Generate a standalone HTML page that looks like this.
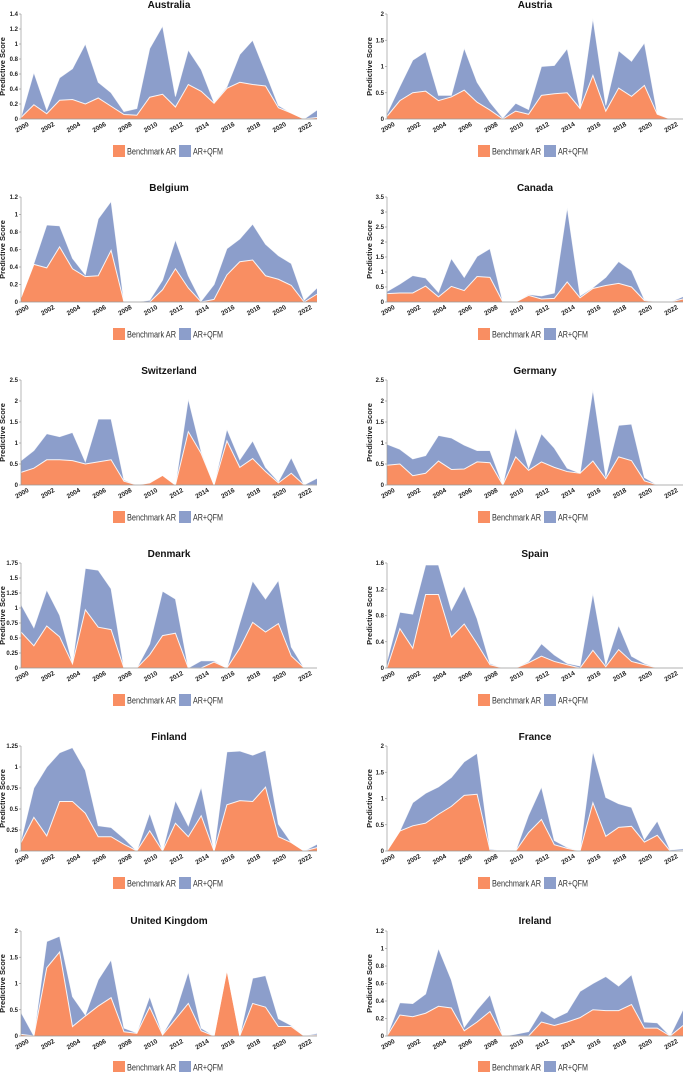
<!DOCTYPE html>
<html><head><meta charset="utf-8"><style>
html,body{margin:0;padding:0;background:#fff;}
svg{display:block;font-family:"Liberation Sans",sans-serif;}
</style></head><body>
<svg id="chart" width="685" height="1072" viewBox="0 0 685 1072" xmlns="http://www.w3.org/2000/svg"></svg>
<script>
const years = [2000,2001,2002,2003,2004,2005,2006,2007,2008,2009,2010,2011,2012,2013,2014,2015,2016,2017,2018,2019,2020,2021,2022,2023];
const countries = ["Australia","Austria","Belgium","Canada","Switzerland","Germany","Denmark","Spain","Finland","France","United Kingdom","Ireland"];
const yMaxes = [1.4,2,1.2,3.5,2.5,2.5,1.75,1.6,1.25,2,2,1.2];
const yStepsList = [0.2,0.5,0.2,0.5,0.5,0.5,0.25,0.4,0.25,0.5,0.5,0.2];
const benchAustralia = [0.02,0.19,0.07,0.25,0.26,0.2,0.28,0.17,0.06,0.05,0.29,0.33,0.16,0.46,0.37,0.21,0.41,0.49,0.46,0.44,0.15,0.08,0,0.02];
const topAustralia = [0.02,0.62,0.12,0.55,0.67,1.0,0.49,0.35,0.1,0.14,0.94,1.24,0.3,0.92,0.66,0.22,0.43,0.86,1.05,0.62,0.18,0.08,0,0.12];
const benchAustria = [0.05,0.35,0.5,0.53,0.35,0.42,0.55,0.32,0.17,0,0.15,0.09,0.45,0.48,0.5,0.2,0.83,0.15,0.59,0.43,0.64,0.09,0,0];
const topAustria = [0.1,0.62,1.12,1.28,0.45,0.45,1.35,0.7,0.32,0.02,0.3,0.18,1.0,1.02,1.34,0.2,1.92,0.26,1.3,1.1,1.45,0.1,0,0];
const benchBelgium = [0.05,0.43,0.39,0.63,0.38,0.29,0.3,0.59,0,0,0,0.14,0.38,0.16,0,0.03,0.31,0.46,0.48,0.3,0.26,0.19,0,0.09];
const topBelgium = [0.05,0.44,0.88,0.87,0.5,0.31,0.95,1.15,0,0,0.02,0.25,0.71,0.3,0.01,0.2,0.61,0.72,0.89,0.66,0.53,0.44,0.02,0.16];
const benchCanada = [0.28,0.3,0.3,0.53,0.17,0.52,0.38,0.85,0.82,0,0,0.22,0.1,0.12,0.67,0.14,0.45,0.55,0.62,0.5,0.05,0,0,0.1];
const topCanada = [0.35,0.6,0.88,0.8,0.32,1.45,0.82,1.52,1.78,0,0,0.25,0.2,0.3,3.15,0.2,0.48,0.82,1.35,1.05,0.08,0,0,0.18];
const benchSwitzerland = [0.3,0.4,0.6,0.6,0.58,0.5,0.55,0.6,0.09,0,0.05,0.23,0,1.27,0.75,0,1.05,0.42,0.63,0.32,0.05,0.28,0,0];
const topSwitzerland = [0.58,0.82,1.22,1.15,1.25,0.55,1.57,1.57,0.12,0,0.06,0.23,0,2.05,0.8,0,1.33,0.6,1.05,0.42,0.08,0.65,0,0.16];
const benchGermany = [0.47,0.5,0.22,0.28,0.57,0.37,0.38,0.55,0.53,0,0.67,0.35,0.55,0.42,0.32,0.28,0.57,0.15,0.67,0.58,0.1,0,0,0];
const topGermany = [0.97,0.85,0.62,0.7,1.18,1.12,0.95,0.82,0.82,0,1.37,0.4,1.22,0.88,0.4,0.28,2.27,0.2,1.42,1.45,0.18,0,0,0];
const benchDenmark = [0.6,0.37,0.7,0.52,0.07,0.97,0.68,0.64,0,0,0.22,0.54,0.58,0,0,0.1,0,0.33,0.76,0.6,0.74,0.2,0,0];
const topDenmark = [1.06,0.67,1.3,0.88,0.08,1.66,1.63,1.32,0,0,0.4,1.28,1.15,0,0.12,0.12,0,0.75,1.45,1.15,1.46,0.35,0,0];
const benchSpain = [0,0.6,0.3,1.12,1.12,0.47,0.67,0.37,0.05,0,0,0.08,0.18,0.1,0.05,0,0.27,0.02,0.28,0.1,0.05,0,0,0];
const topSpain = [0.1,0.85,0.82,1.57,1.57,0.88,1.25,0.75,0.07,0,0,0.1,0.37,0.2,0.07,0.03,1.14,0.05,0.65,0.18,0.07,0,0,0];
const benchFinland = [0.1,0.4,0.18,0.59,0.59,0.45,0.17,0.17,0.08,0,0.24,0,0.33,0.17,0.42,0,0.55,0.6,0.59,0.76,0.17,0.1,0,0.04];
const topFinland = [0.12,0.75,1.0,1.17,1.23,0.96,0.3,0.28,0.15,0,0.45,0,0.6,0.3,0.76,0,1.18,1.19,1.14,1.2,0.32,0.1,0,0.08];
const benchFrance = [0,0.38,0.48,0.53,0.7,0.85,1.06,1.08,0.02,0,0,0.35,0.6,0.12,0.05,0,0.92,0.28,0.45,0.47,0.17,0.3,0,0.01];
const topFrance = [0,0.38,0.92,1.1,1.22,1.4,1.7,1.86,0.04,0,0,0.68,1.22,0.2,0.07,0,1.9,1.02,0.9,0.83,0.22,0.57,0.02,0.04];
const benchUK = [0.03,0,1.3,1.6,0.18,0.38,0.57,0.73,0.08,0.05,0.55,0.02,0.32,0.62,0.1,0,1.26,0,0.62,0.55,0.18,0.18,0,0.02];
const topUK = [0.45,0,1.8,1.9,0.75,0.4,1.07,1.45,0.15,0.06,0.75,0.03,0.45,1.22,0.15,0,1.26,0,1.1,1.15,0.33,0.2,0,0.05];
const benchIreland = [0,0.24,0.22,0.26,0.34,0.32,0.06,0.16,0.28,0,0,0,0.16,0.12,0.16,0.21,0.3,0.29,0.29,0.36,0.09,0.09,0,0.12];
const topIreland = [0,0.38,0.37,0.48,1.0,0.64,0.1,0.3,0.47,0,0.02,0.05,0.29,0.2,0.27,0.51,0.6,0.68,0.57,0.7,0.16,0.15,0,0.3];
const benchSeries = [benchAustralia,benchAustria,benchBelgium,benchCanada,benchSwitzerland,benchGermany,benchDenmark,benchSpain,benchFinland,benchFrance,benchUK,benchIreland];
const topSeries = [topAustralia,topAustria,topBelgium,topCanada,topSwitzerland,topGermany,topDenmark,topSpain,topFinland,topFrance,topUK,topIreland];

const NS = "http://www.w3.org/2000/svg";
const svg = document.getElementById("chart");
function mk(tag, attrs, parent, text){
  const e = document.createElementNS(NS, tag);
  for (const k in attrs) e.setAttribute(k, attrs[k]);
  if (text !== undefined) e.textContent = text;
  parent.appendChild(e);
  return e;
}
const ORANGE = "#f98e62", BLUE = "#8c9ecb";
function slug(s){return s.toLowerCase().replace(/\s+/g,'-');}
function fmt(v){return String(Math.round(v*100)/100);}

countries.forEach((name, i) => {
  const col = i % 2, row = Math.floor(i/2);
  const last = row === 5;
  const oy = row*183;
  const x0 = col ? 387 : 21, x1 = col ? 683 : 317;
  const yTop = last ? 931 : oy+14, yBot = last ? 1036 : oy+119;
  const titleY = last ? 924 : oy+8;
  const legY = last ? 1067 : oy+151;
  const g = mk("g", {}, svg);
  
  
  const xs = k => x0 + (x1-x0)*k/(years.length-1);
  const ys = v => yBot - (yBot-yTop)*v/yMaxes[i];
  const t = mk("text", {x:(x0+x1)/2, y:titleY, "text-anchor":"middle", "font-size":"10", "font-weight":"bold", fill:"#111"}, g, name);
  
  
  const yt = mk("text", {x:0, y:0, transform:`translate(${col?372:5},${(yTop+yBot)/2}) rotate(-90)`, "text-anchor":"middle", "font-size":"7.5", "font-weight":"bold", fill:"#222"}, g, "Predictive Score");
  
  
  const top = topSeries[i], bench = benchSeries[i];
  let dTop = `M${xs(0)},${ys(0)}`;
  top.forEach((v,k)=>{dTop += ` L${xs(k)},${ys(v)}`;});
  dTop += ` L${xs(top.length-1)},${ys(0)} Z`;
  const aTop = mk("path", {d:dTop, fill:BLUE, stroke:"none"}, g);
  
  
  let dB = `M${xs(0)},${ys(0)}`;
  bench.forEach((v,k)=>{dB += ` L${xs(k)},${ys(v)}`;});
  dB += ` L${xs(bench.length-1)},${ys(0)} Z`;
  const aB = mk("path", {d:dB, fill:ORANGE, stroke:"none"}, g);
  
  
  let lT = "", lB = "";
  top.forEach((v,k)=>{lT += (k?" L":"M")+xs(k)+","+ys(v);});
  bench.forEach((v,k)=>{lB += (k?" L":"M")+xs(k)+","+ys(v);});
  mk("path", {d:lT, fill:"none", stroke:"#fff", "stroke-width":"0.8", opacity:"0.8"}, g);
  mk("path", {d:lB, fill:"none", stroke:"#fff", "stroke-width":"1", opacity:"0.9"}, g);
  const ya = mk("line", {x1:x0, y1:yTop, x2:x0, y2:yBot, stroke:"#999", "stroke-width":"0.7"}, g);
  
  
  const xa = mk("line", {x1:x0, y1:yBot, x2:x1, y2:yBot, stroke:"#999", "stroke-width":"0.7"}, g);
  
  
  const n = Math.round(yMaxes[i]/yStepsList[i]);
  for (let s=0; s<=n; s++){
    const v = s*yStepsList[i];
    mk("line", {x1:x0-2, y1:ys(v), x2:x0, y2:ys(v), stroke:"#999", "stroke-width":"0.7"}, g);
    const tl = mk("text", {x:x0-3, y:ys(v)+2, "text-anchor":"end", "font-size":"6", "font-weight":"bold", fill:"#222"}, g, fmt(v));
    
    
  }
  years.forEach((yr,k)=>{
    if (yr % 2) return;
    const xl = mk("text", {x:0, y:0, transform:`translate(${xs(k)+2},${yBot+10}) rotate(-30)`, "text-anchor":"middle", "font-size":"6.5", "font-weight":"bold", fill:"#222"}, g, String(yr));
    
    
  });
  const lc = col ? 533 : 168;
  const lg = mk("g", {}, g);
  
  
  mk("rect", {x:lc-55, y:legY-6, width:12, height:12, fill:ORANGE}, lg);
  const l1 = mk("text", {x:lc-41, y:legY+3.5, "font-size":"9", fill:"#333", textLength:"49", lengthAdjust:"spacingAndGlyphs"}, lg, "Benchmark AR");
  
  
  mk("rect", {x:lc+11, y:legY-6, width:12, height:12, fill:BLUE}, lg);
  const l2 = mk("text", {x:lc+25, y:legY+3.5, "font-size":"9", fill:"#333", textLength:"30", lengthAdjust:"spacingAndGlyphs"}, lg, "AR+QFM");
  
  
});
</script>
</body></html>
